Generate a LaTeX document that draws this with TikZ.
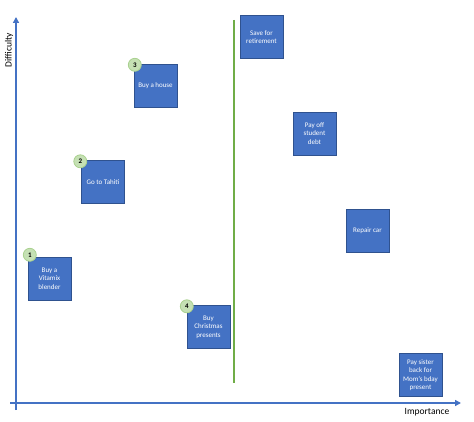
\documentclass[tikz,border=0pt]{standalone}
\usepackage{fontspec}
\setmainfont{Carlito}
\usetikzlibrary{arrows.meta}
\definecolor{taskblue}{HTML}{4472C4}
\definecolor{taskedge}{HTML}{2F528F}
\definecolor{splitgreen}{HTML}{70AD47}
\definecolor{rankfill}{HTML}{C5E0B4}
\definecolor{rankedge}{HTML}{A9D18E}
\tikzset{
	task/.style = {draw=taskedge, fill=taskblue, text=white, minimum size=43pt,
		inner sep=0pt, align=center,
		font=\fontsize{7}{8.5}\selectfont},
	rank/.style = {circle, draw=rankedge, fill=rankfill, line width=0.8pt,
		minimum size=13pt, inner sep=0pt, font=\fontsize{7}{8}\selectfont\bfseries},
	axis/.style = {draw=taskblue, line width=1.3pt, -{Triangle[length=6pt,width=6pt]}}
}
\begin{document}
\begin{tikzpicture}[x = 1pt, y = 1pt]
		\useasboundingbox (0,0) rectangle (474,421);
		% axes
		\coordinate (ybot) at (16,11);
		\coordinate (ytop) at (16,404);
		\coordinate (xleft) at (10,18);
		\coordinate (xright) at (461,18);
		\path [axis] (ybot) -- (ytop);
		\path [axis] (xleft) -- (xright);
		\node [rotate=90, font=\fontsize{9.5}{11}\selectfont] (diff) at (9,371) {Difficulty};
		\node [font=\fontsize{9.5}{11}\selectfont] (imp) at (427,9) {Importance};
		% divider
		\coordinate (gtop) at (234,401);
		\coordinate (gbot) at (234,38);
		\path [draw=splitgreen, line width=2.6pt] (gtop) -- (gbot);
		% tasks
		\node [task] (retire) at (261.5,384) {Save for\\retirement};
		\node [task] (debt) at (314.5,287.5) {Pay off\\student\\debt};
		\node [task] (car) at (367.5,190.5) {Repair car};
		\node [task] (sister) at (420.5,46) {Pay sister\\back for\\Mom's bday\\present};
		\node [task] (house) at (155.5,335.5) {Buy a house};
		\node [task] (tahiti) at (103,239) {Go to Tahiti};
		\node [task] (vitamix) at (49.5,142.5) {Buy a\\Vitamix\\blender};
		\node [task] (xmas) at (208.5,94) {Buy\\Christmas\\presents};
		% ranks
		\node [rank] (r1) at ([shift={(2,2)}]vitamix.north west) {1};
		\node [rank] (r2) at ([shift={(-1,-1)}]tahiti.north west) {2};
		\node [rank] (r3) at ([shift={(1,-1)}]house.north west) {3};
		\node [rank] (r4) at ([shift={(0,-1)}]xmas.north west) {4};
	\end{tikzpicture}
\end{document}
